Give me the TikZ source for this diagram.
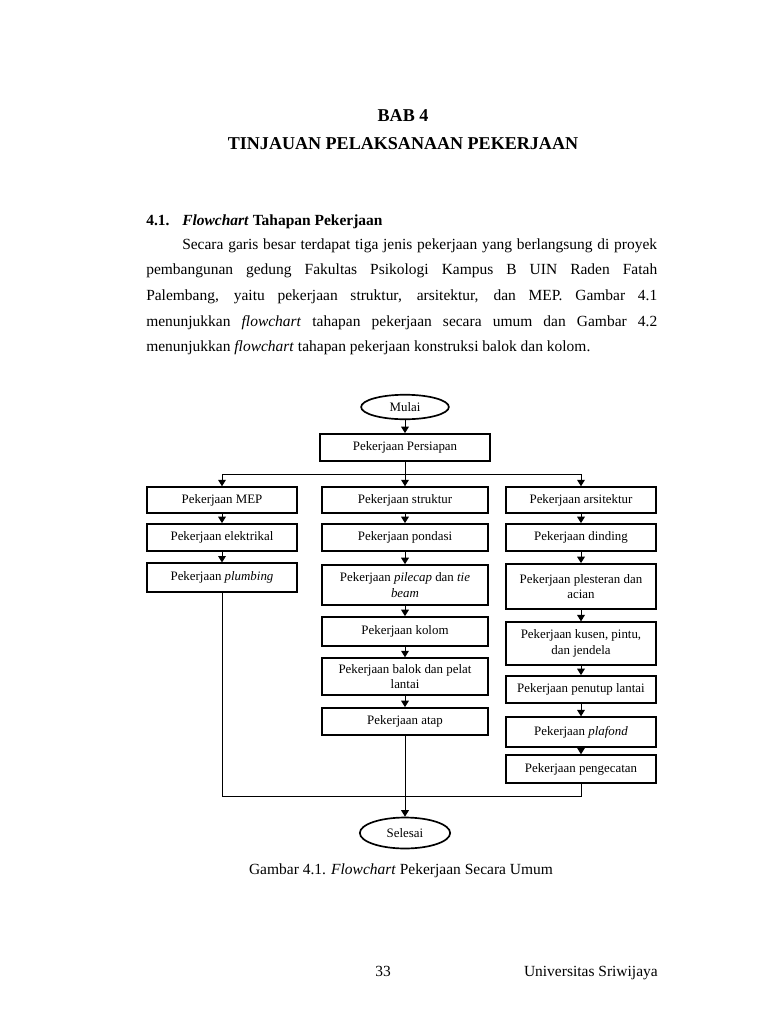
\documentclass[tikz,border=0pt]{standalone}
\usepackage{fontspec}
\setmainfont{Liberation Serif}
\usetikzlibrary{shapes.geometric, arrows.meta}

\begin{document}
\begin{tikzpicture}[
    x=0.775pt, y=-0.775pt,
    box/.style={rectangle, draw=black, line width=1.3pt, minimum width=116pt, minimum height=21pt, align=center, inner sep=1pt, font=\fontsize{10}{12}\selectfont},
    midbox/.style={box, minimum width=129pt},
    terminal/.style={ellipse, draw=black, line width=1.3pt, minimum width=68pt, minimum height=19pt, inner sep=0pt, font=\fontsize{10}{12}\selectfont},
    arrow/.style={line width=0.75pt, -{Triangle[length=5pt, width=6pt]}},
    plain/.style={line width=0.75pt},
    body/.style={anchor=base west, inner sep=0pt, font=\fontsize{12}{14}\selectfont}
]
\useasboundingbox (0,0) rectangle (768,1024);

% Page text
\node (bab) [anchor=base, font=\fontsize{14}{17}\selectfont\bfseries] at (403,121) {BAB 4};
\node (judul) [anchor=base, font=\fontsize{14}{17}\selectfont\bfseries] at (403,149) {TINJAUAN PELAKSANAAN PEKERJAAN};
\node (subno) [body, font=\fontsize{12}{14}\selectfont\bfseries] at (146,225) {4.1.};
\node (subjudul) [body, font=\fontsize{12}{14}\selectfont\bfseries] at (182,225) {\textit{Flowchart} Tahapan Pekerjaan};
\node (par1) [body] at (182,249) {\makebox[368pt][s]{Secara garis besar terdapat tiga jenis pekerjaan yang berlangsung di proyek}};
\node (par2) [body] at (146,274) {\makebox[396pt][s]{pembangunan gedung Fakultas Psikologi Kampus B UIN Raden Fatah}};
\node (par3) [body] at (146,300) {\makebox[396pt][s]{Palembang, yaitu pekerjaan struktur, arsitektur, dan MEP. Gambar 4.1}};
\node (par4) [body] at (146,326) {\makebox[396pt][s]{menunjukkan \textit{flowchart} tahapan pekerjaan secara umum dan Gambar 4.2}};
\node (par5) [body] at (146,351) {menunjukkan \textit{flowchart} tahapan pekerjaan konstruksi balok dan kolom.};

% Nodes
\node (mulai) [terminal] at (405,407) {Mulai};
\node (persiapan) [box, minimum width=132pt] at (405,447.5) {Pekerjaan Persiapan};

\node (mep) [box, minimum height=20pt] at (222,500) {Pekerjaan MEP};
\node (elektrikal) [box] at (222,537.5) {Pekerjaan elektrikal};
\node (plumbing) [box, minimum height=22pt] at (222,577.5) {Pekerjaan \textit{plumbing}};

\node (struktur) [midbox, minimum height=20pt] at (405,500) {Pekerjaan struktur};
\node (pondasi) [midbox] at (405,537.5) {Pekerjaan pondasi};
\node (pilecap) [midbox, minimum height=31pt] at (405,585) {Pekerjaan \textit{pilecap} dan \textit{tie}\\\textit{beam}};
\node (kolom) [midbox, minimum height=22.5pt] at (405,631.5) {Pekerjaan kolom};
\node (balok) [midbox, minimum height=28.5pt] at (405,676.5) {Pekerjaan balok dan pelat\\lantai};
\node (atap) [midbox] at (405,721.5) {Pekerjaan atap};

\node (arsitektur) [box, minimum height=20pt] at (581,500) {Pekerjaan arsitektur};
\node (dinding) [box] at (581,537.5) {Pekerjaan dinding};
\node (plesteran) [box, minimum height=35pt] at (581,586.5) {Pekerjaan plesteran dan\\acian};
\node (kusen) [box, minimum height=33pt] at (581,643.5) {Pekerjaan kusen, pintu,\\dan jendela};
\node (penutup) [box] at (581,689.5) {Pekerjaan penutup lantai};
\node (plafond) [box, minimum height=23pt] at (581,732) {Pekerjaan \textit{plafond}};
\node (pengecatan) [box, minimum height=21.5pt] at (581,769) {Pekerjaan pengecatan};

\node (selesai) [terminal, minimum width=70pt, minimum height=24pt] at (405,833) {Selesai};

\coordinate (split) at (405,474);
\coordinate (join) at (405,796);

% Arrows
\draw [arrow] (mulai) -- (persiapan);
\draw [plain] (persiapan) -- (split);
\draw [arrow] (split) -| (mep);
\draw [arrow] (split) -- (struktur);
\draw [arrow] (split) -| (arsitektur);

\draw [arrow] (mep) -- (elektrikal);
\draw [arrow] (elektrikal) -- (plumbing);

\draw [arrow] (struktur) -- (pondasi);
\draw [arrow] (pondasi) -- (pilecap);
\draw [arrow] (pilecap) -- (kolom);
\draw [arrow] (kolom) -- (balok);
\draw [arrow] (balok) -- (atap);

\draw [arrow] (arsitektur) -- (dinding);
\draw [arrow] (dinding) -- (plesteran);
\draw [arrow] (plesteran) -- (kusen);
\draw [arrow] (kusen) -- (penutup);
\draw [arrow] (penutup) -- (plafond);
\draw [arrow] (plafond) -- (pengecatan);

\draw [plain] (plumbing) |- (join) -| (pengecatan);
\draw [arrow] (atap) -- (selesai);

% Caption and footer
\node (caption) [anchor=base, inner sep=0pt, font=\fontsize{12}{14}\selectfont] at (401,874) {Gambar 4.1. \textit{Flowchart} Pekerjaan Secara Umum};
\node (halaman) [anchor=base, inner sep=0pt, font=\fontsize{12}{14}\selectfont] at (383,976) {33};
\node (univ) [anchor=base east, inner sep=0pt, font=\fontsize{12}{14}\selectfont] at (658,976) {Universitas Sriwijaya};

\end{tikzpicture}
\end{document}
